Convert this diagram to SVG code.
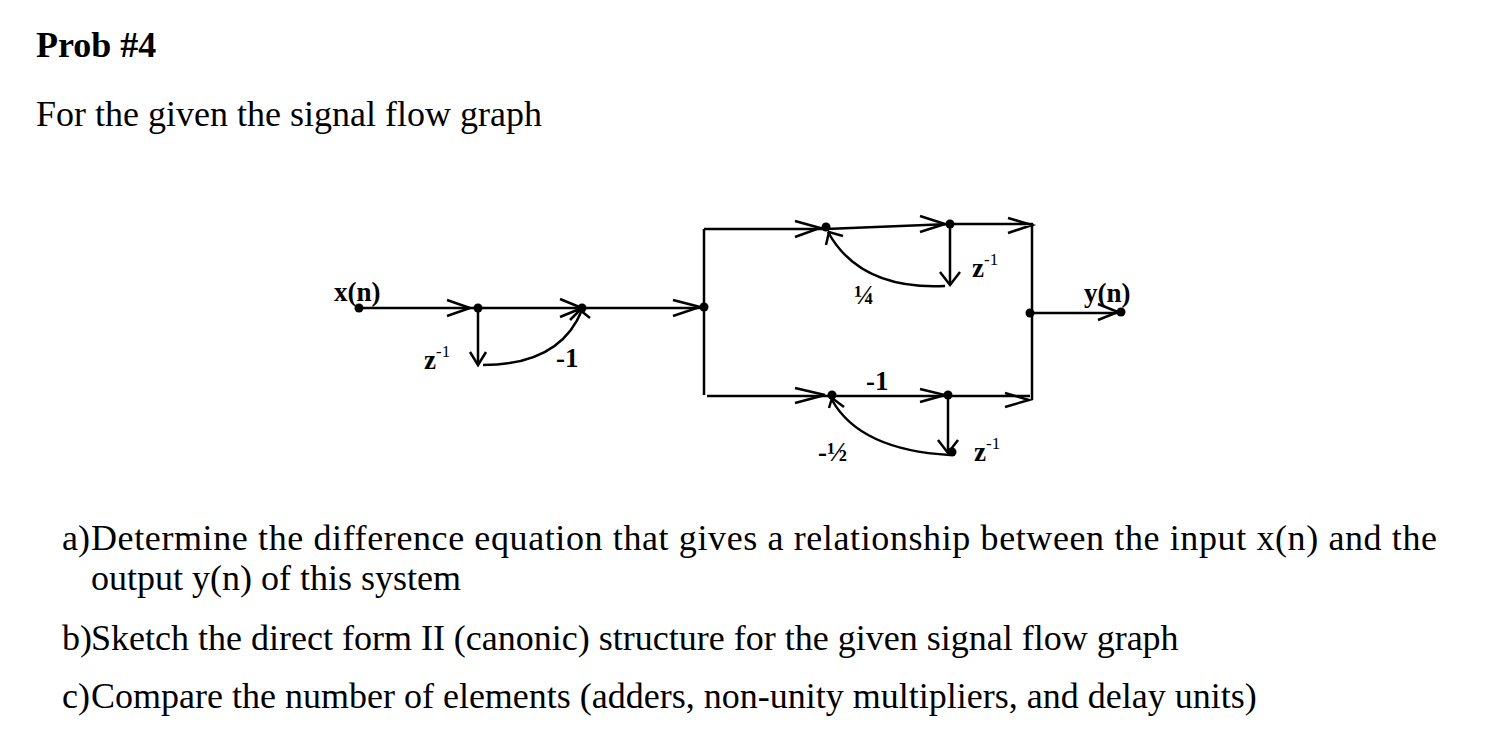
<svg xmlns="http://www.w3.org/2000/svg" width="1488" height="750" viewBox="0 0 1488 750">
<style>
.t{font-family:"Liberation Serif",serif;font-size:36px;fill:#000}
.l{font-family:"Liberation Serif",serif;font-size:27px;font-weight:bold;fill:#000}
.s{font-size:17px;font-weight:normal}
.e{fill:none;stroke:#000;stroke-width:2.5}
.a{fill:none;stroke:#000;stroke-width:2.5}
</style>
<rect width="1488" height="750" fill="#fff"/>
<text class="t" x="36" y="57" font-weight="bold" font-size="33">Prob #4</text>
<text class="t" x="36" y="126">For the given the signal flow graph</text>
<text class="t" x="62" y="550">a)</text>
<text class="t" x="91" y="550" textLength="1346" lengthAdjust="spacing">Determine the difference equation that gives a relationship between the input x(n) and the</text>
<text class="t" x="91" y="590">output y(n) of this system</text>
<text class="t" x="62" y="650">b)</text>
<text class="t" x="91" y="650">Sketch the direct form II (canonic) structure for the given signal flow graph</text>
<text class="t" x="62" y="708">c)</text>
<text class="t" x="91" y="708">Compare the number of elements (adders, non-unity multipliers, and delay units)</text>
<g id="connectors">
<path class="e" d="M357 308H704M478 308V365M483 365Q560 365 582 310M704 229V395M704 229H826L950 224H1032V400M707 396H1030M950 224V285M945 286Q860 290 828 232M948 395V453M950 455Q860 450 832 400M1030 313H1121"/>
<path class="a" d="M447 300L470 308L447 316M560 299L582 308L560 317M673 300L700 307L673 316M470 352L478 365L486 352M570 320L580 310L590 318M795 221L820 228L795 237M920 216L945 224L920 232M1008 218L1032 225L1008 233M940 272L950 285L960 272M826 245L829 232L843 236M1098 304L1118 312L1098 320M795 388L825 395L795 403M920 389L945 395L920 402M1005 393L1029 400L1005 407M829 408L832 398L844 407M938 440L948 453L958 440"/>
</g>
<g id="nodes" fill="#000">
<circle id="n_x" cx="359" cy="308" r="4.5"/>
<circle id="n1" cx="478" cy="308" r="4.5"/>
<circle id="n2" cx="582" cy="308" r="4.5"/>
<circle id="n3" cx="704" cy="307" r="4.5"/>
<circle id="n4" cx="826" cy="227" r="4.5"/>
<circle id="n5" cx="950" cy="224" r="4.5"/>
<circle id="n6" cx="1030" cy="313" r="4.5"/>
<circle id="n_y" cx="1121" cy="312" r="4.5"/>
<circle id="n7" cx="832" cy="395" r="4.5"/>
<circle id="n8" cx="948" cy="395" r="4.5"/>
<circle id="n9" cx="952" cy="452" r="4.5"/>
</g>
<g id="labels">
<text class="l" x="334" y="301">x(n)</text>
<text class="l" x="1084" y="302">y(n)</text>
<text class="l" x="424" y="369">z<tspan class="s" dy="-12">-1</tspan></text>
<text class="l" x="556" y="367">-1</text>
<text class="l" x="854" y="304" font-weight="normal">¼</text>
<text class="l" x="972" y="277">z<tspan class="s" dy="-12">-1</tspan></text>
<text class="l" x="866" y="390">-1</text>
<text class="l" x="818" y="461" font-weight="normal">-½</text>
<text class="l" x="974" y="461">z<tspan class="s" dy="-12">-1</tspan></text>
</g>
</svg>
